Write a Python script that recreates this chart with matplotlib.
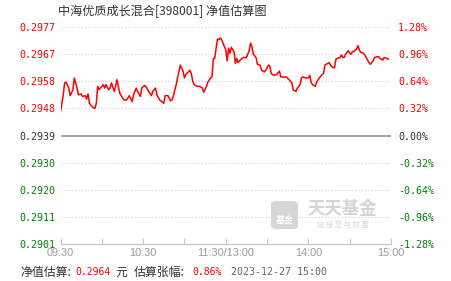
import matplotlib
matplotlib.use("Agg")
import matplotlib.pyplot as plt
from matplotlib.patches import FancyBboxPatch

# ---- data ----
title = "中海优质成长混合[398001] 净值估算图"
base_nav = 0.2939
est_nav = "0.2964"
est_pct = "0.86%"
timestamp = "2023-12-27 15:00"

# trading minutes since 09:30 (lunch break removed)
minutes = [0, 2, 3, 4, 6, 7, 9, 10, 12, 13, 15, 16, 18, 19, 20, 21, 23, 25, 26, 27,
           28, 29, 31, 32, 33, 35, 36, 37, 39, 40, 41, 42, 43, 46, 48, 50, 52, 53, 55, 56,
           58, 59, 61, 62, 64, 66, 67, 69, 70, 72, 75, 76, 78, 80, 81, 82, 84, 85, 87, 88,
           89, 90, 91, 94, 95, 96, 97, 99, 101, 103, 104, 106, 107, 109, 110, 111, 112, 113, 114, 115,
           116, 117, 118, 120, 121, 122, 123, 124, 126, 127, 128, 129, 131, 133, 135, 137, 138, 139, 140, 142,
           143, 145, 146, 148, 149, 151, 152, 153, 155, 157, 159, 160, 163, 164, 166, 168, 169, 171, 172, 174,
           175, 176, 178, 180, 181, 182, 183, 185, 186, 188, 190, 191, 192, 194, 195, 197, 198, 199, 200, 201,
           203, 204, 205, 206, 207, 209, 210, 211, 212, 213, 215, 216, 217, 218, 220, 221, 223, 224, 225, 227,
           228, 230, 231, 232, 234, 235, 237, 238]
pct = [0.28, 0.48, 0.62, 0.63, 0.56, 0.47, 0.54, 0.68, 0.56, 0.48, 0.49, 0.46, 0.47, 0.43, 0.49, 0.38, 0.34, 0.32, 0.38, 0.58,
       0.54, 0.56, 0.60, 0.56, 0.60, 0.54, 0.56, 0.62, 0.52, 0.58, 0.66, 0.58, 0.50, 0.42, 0.42, 0.47, 0.40, 0.48, 0.56, 0.52,
       0.46, 0.56, 0.59, 0.58, 0.52, 0.47, 0.52, 0.56, 0.48, 0.42, 0.38, 0.47, 0.47, 0.41, 0.42, 0.47, 0.60, 0.68, 0.83, 0.79,
       0.76, 0.68, 0.72, 0.77, 0.73, 0.64, 0.60, 0.58, 0.58, 0.56, 0.51, 0.58, 0.63, 0.68, 0.69, 0.91, 0.91, 1.03, 1.14, 1.13,
       1.15, 1.13, 1.09, 1.01, 0.88, 1.03, 0.97, 1.04, 0.99, 0.85, 0.91, 0.86, 0.90, 0.92, 0.92, 1.00, 1.09, 1.05, 0.96, 0.92,
       0.84, 0.83, 0.77, 0.75, 0.77, 0.83, 0.82, 0.73, 0.71, 0.72, 0.76, 0.69, 0.69, 0.69, 0.66, 0.62, 0.54, 0.52, 0.56, 0.60,
       0.68, 0.69, 0.68, 0.68, 0.71, 0.63, 0.60, 0.58, 0.63, 0.68, 0.72, 0.73, 0.83, 0.85, 0.86, 0.81, 0.80, 0.80, 0.90, 0.91,
       0.92, 0.95, 0.92, 0.92, 0.96, 1.00, 0.97, 0.96, 0.99, 0.99, 1.02, 1.06, 1.01, 0.98, 0.97, 0.95, 0.89, 0.86, 0.84, 0.88,
       0.92, 0.93, 0.93, 0.91, 0.89, 0.92, 0.91, 0.90]

pct_ticks = [1.28, 0.96, 0.64, 0.32, 0.00, -0.32, -0.64, -0.96, -1.28]
time_ticks = [0, 30, 60, 90, 120, 150, 180, 210, 240]
time_labels = ["09:30", "", "10:30", "", "11:30/13:00", "", "14:00", "", "15:00"]

RED = "#ff0000"
GREEN = "#008000"
DARK = "#333333"
GRAY = "#999999"

fig = plt.figure(figsize=(4.51, 2.81), dpi=100)
ax = fig.add_axes([60.5 / 451, 37 / 281, 330.5 / 451, 217 / 281])

for p in pct_ticks:
    if p == 0:
        ax.axhline(p, color="#999999", lw=1.3, zorder=1)
    elif p == -1.28:
        continue
    else:
        ax.axhline(p, color="#dddddd", lw=0.8, ls=(0, (1.5, 1.5)), zorder=1)

ax.plot(minutes, pct, color=RED, lw=1.1, zorder=3)

ax.set_xlim(0, 240)
ax.set_ylim(-1.28, 1.28)
for s in ["top", "left", "right"]:
    ax.spines[s].set_visible(False)
ax.spines["bottom"].set_color("#c0cde0")
ax.spines["bottom"].set_linewidth(1.0)

ax.set_xticks(time_ticks)
ax.set_xticklabels(time_labels, fontfamily="Liberation Sans", fontsize=7.8, color=GRAY)
ax.tick_params(axis="x", length=4, direction="in", color="#c0cde0", pad=3)

# left labels (NAV) and right labels (percent)
ax.set_yticks(pct_ticks)
ax.set_yticklabels([f"{base_nav * (1 + p / 100):.4f}" for p in pct_ticks],
                   fontfamily="DejaVu Sans Mono", fontsize=7.2)
ax.tick_params(axis="y", length=0, pad=3.5)
for lab, p in zip(ax.get_yticklabels(), pct_ticks):
    lab.set_color(RED if p > 0 else (GREEN if p < 0 else DARK))

ax2 = ax.twinx()
ax2.set_ylim(-1.28, 1.28)
ax2.set_yticks(pct_ticks)
ax2.set_yticklabels([f"{p:.2f}%" for p in pct_ticks], fontfamily="DejaVu Sans Mono", fontsize=7.2)
ax2.tick_params(axis="y", length=0, pad=5)
for s in ["top", "left", "right", "bottom"]:
    ax2.spines[s].set_visible(False)
for lab, p in zip(ax2.get_yticklabels(), pct_ticks):
    lab.set_color(RED if p > 0 else (GREEN if p < 0 else DARK))

cjk = ["Noto Sans CJK SC", "DejaVu Sans"]

# title
fig.text(58 / 451, 1 - 11.5 / 281, title, ha="left", va="center", fontsize=8.7,
         color=DARK, family=cjk)

# watermark
wm = FancyBboxPatch((271 / 451, 1 - 229 / 281), 27 / 451, 28 / 281,
                    boxstyle="round,pad=0,rounding_size=0.012", transform=fig.transFigure,
                    facecolor="#d6d6d6", edgecolor="none", zorder=0)
fig.patches.append(wm)
fig.text(284.5 / 451, 1 - 220 / 281, "基金", ha="center", va="center", fontsize=6.5,
         color="white", family=cjk, weight="bold")
fig.text(342 / 451, 1 - 209 / 281, "天天基金", ha="center", va="center", fontsize=12.5,
         color="#d4d4d4", family=cjk, weight="bold")
fig.text(343 / 451, 1 - 225 / 281, "链 接 您 与 财 富", ha="center", va="center", fontsize=5.2,
         color="#d4d4d4", family=cjk)

# bottom info line
yb = 1 - 272 / 281
fig.text(20 / 451, yb, "净值估算:", ha="left", va="center", fontsize=8.6, color=DARK, family=cjk)
fig.text(75 / 451, yb, est_nav, ha="left", va="center", fontsize=7.0, color=RED, family="DejaVu Sans Mono")
fig.text(115 / 451, yb, "元", ha="left", va="center", fontsize=8.6, color=DARK, family=cjk)
fig.text(134 / 451, yb, "估算张幅:", ha="left", va="center", fontsize=8.6, color=DARK, family=cjk)
fig.text(192 / 451, yb, est_pct, ha="left", va="center", fontsize=7.0, color=RED, family="DejaVu Sans Mono")
fig.text(231 / 451, yb, timestamp, ha="left", va="center", fontsize=7.2, color="#666666", family="DejaVu Sans Mono")

fig.savefig("out.png", dpi=100)
